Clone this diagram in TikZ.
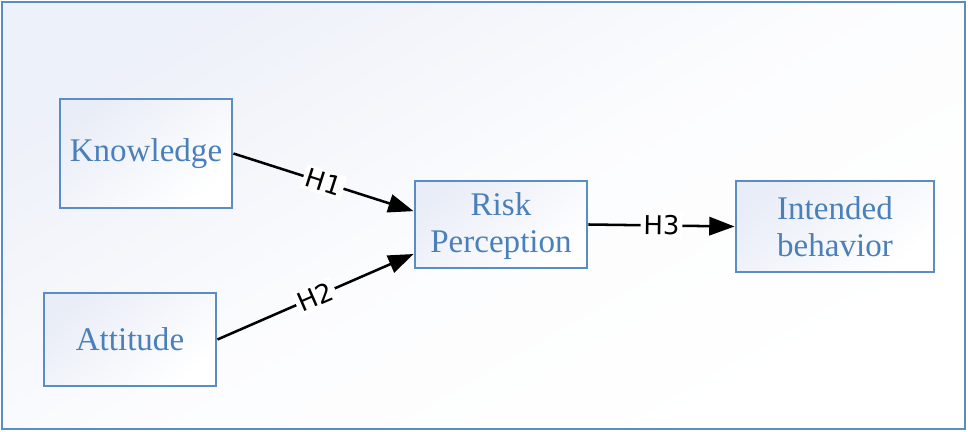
\documentclass[tikz,border=0pt]{standalone}
\usepackage{fontspec}
\setmainfont{Liberation Serif}
\newfontfamily\hypfont{DejaVu Sans}
\usepackage{xcolor}
\usetikzlibrary{arrows.meta}

\definecolor{frameblue}{HTML}{5A8DC4}
\definecolor{textblue}{HTML}{4A80BA}
\definecolor{paleblue}{HTML}{E9EDF7}

\tikzset{
    box/.style={rectangle, draw=frameblue, line width=2pt, top color=paleblue, bottom color=white, shading angle=40,
        text=textblue, align=center, font=\fontsize{23.5}{26}\selectfont, inner sep=2pt},
    link/.style={line width=1.8pt, -{Triangle[length=18pt, width=13pt]}},
    hyp/.style={fill=white, inner sep=2pt, font=\hypfont\fontsize{18.5}{20}\selectfont}
}

\begin{document}
\begin{tikzpicture}[x=0.025cm, y=-0.025cm]
    \useasboundingbox (0, 0) rectangle (968, 432);
    \shade[top color=paleblue!80, bottom color=white, middle color=white!85!paleblue, shading angle=30, draw=frameblue, line width=2pt] (2, 2) rectangle (965, 429);

    \node[box, minimum width=4.3cm, minimum height=2.725cm] (know) at (146, 153.5) {Knowledge};
    \node[box, minimum width=4.3cm, minimum height=2.325cm] (att) at (130, 339.5) {Attitude};
    \node[box, minimum width=4.3cm, minimum height=2.175cm] (risk) at (501, 224.5) {\strut Risk\\Perception};
    \node[box, minimum width=4.95cm, minimum height=2.275cm] (intent) at (835, 226.5) {Intended\\behavior};

    \draw[link] (know.east) to node[midway, sloped, hyp] {H1} ([yshift=9.5pt]risk.west);
    \draw[link] (att.east) to node[midway, sloped, hyp] {H2} ([yshift=-21pt]risk.west);
    \draw[link] (risk.east) to node[midway, sloped, hyp] {H3} (intent.west);
\end{tikzpicture}
\end{document}
